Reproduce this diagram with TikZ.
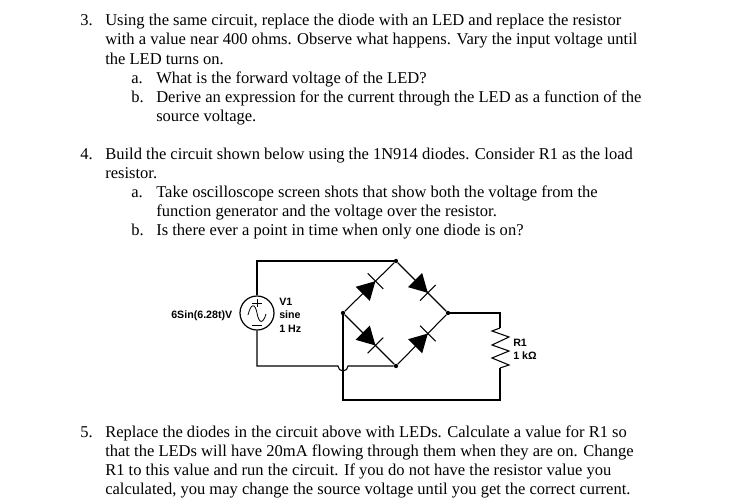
\documentclass[tikz,border=0pt]{standalone}
\usepackage{fontspec}
\setmainfont{Liberation Serif}
\setsansfont{Liberation Sans}
\tikzset{
  para/.style={anchor=base west,inner sep=0pt,font=\fontsize{12.4}{0}\selectfont},
  lab/.style={anchor=base west,inner sep=0pt,font=\sffamily\bfseries\fontsize{8}{0}\selectfont},
  wire/.style={line width=.8pt},
  sign/.style={line width=.6pt},
  junct/.style={circle,fill=black,inner sep=0pt,minimum size=3.2pt},
}
\newcommand{\diode}[4]{
\path (#1) -- (#2) coordinate[pos=.62] (#3);
\begin{scope}[shift={(#3)},rotate=#4]
\fill (0,0) -- (-18,10) -- (-18,-10) -- cycle;
\draw[wire] (0,-11) -- (0,11);
\end{scope}
}
\begin{document}
\begin{tikzpicture}[x=.75pt,y=-.75pt]
\useasboundingbox (0,0) rectangle (733,504);
\fill[white] (0,0) rectangle (733,504);
\node[para] (t1) at (80,25) {3.};
\node[para] (t2) at (105,25) {Using the same circuit, replace the diode with an LED and replace the resistor};
\node[para] (t3) at (105,44) {with a value near 400 ohms. Observe what happens. Vary the input voltage until};
\node[para] (t4) at (105,64) {the LED turns on.};
\node[para] (t5) at (131,83) {a.};
\node[para] (t6) at (156,83) {What is the forward voltage of the LED?};
\node[para] (t7) at (131,102) {b.};
\node[para] (t8) at (156,102) {Derive an expression for the current through the LED as a function of the};
\node[para] (t9) at (156,121) {source voltage.};
\node[para] (t10) at (80,159) {4.};
\node[para] (t11) at (105,159) {Build the circuit shown below using the 1N914 diodes. Consider R1 as the load};
\node[para] (t12) at (105,178) {resistor.};
\node[para] (t13) at (131,197) {a.};
\node[para] (t14) at (156,197) {Take oscilloscope screen shots that show both the voltage from the};
\node[para] (t15) at (156,216) {function generator and the voltage over the resistor.};
\node[para] (t16) at (131,235) {b.};
\node[para] (t17) at (156,235) {Is there ever a point in time when only one diode is on?};
\node[para] (t18) at (80,437) {5.};
\node[para] (t19) at (105,437) {Replace the diodes in the circuit above with LEDs. Calculate a value for R1 so};
\node[para] (t20) at (105,456) {that the LEDs will have 20mA flowing through them when they are on. Change};
\node[para] (t21) at (105,475) {R1 to this value and run the circuit. If you do not have the resistor value you};
\node[para] (t22) at (105,494) {calculated, you may change the source voltage until you get the correct current.};
\node[lab] (l1) at (171,318) {6Sin(6.28t)V};
\node[lab] (l2) at (279,305) {V1};
\node[lab] (l3) at (279,318) {sine};
\node[lab] (l4) at (279,332) {1 Hz};
\node[lab] (l5) at (513,346) {R1};
\node[lab] (l6) at (513,359) {1 kΩ};
\node[junct] (top) at (396,261) {};
\node[junct] (left) at (343,313) {};
\node[junct] (right) at (448,313) {};
\node[junct] (bot) at (396,366) {};
\node[circle,draw,line width=.9pt,inner sep=0pt,minimum size=25.5pt] (src) at (257,313) {};
\coordinate (rt) at (500,328);
\coordinate (rb) at (500,368);
\draw[wire] (src.north) -- (257,261) -- (top);
\draw[wire] (src.south) -- (257,366) -- (338,366) arc (180:0:5) -- (bot);
\draw[wire] (left) -- (top) -- (right) -- (bot) -- (left);
\draw[wire] (left) -- (343,400) -- (500,400) -- (rb);
\draw[wire] (right) -- (500,313) -- (rt);
\draw[wire] (rt) -- (492,331) -- (509,337) -- (492,345) -- (509,351) -- (492,358) -- (509,365) -- (rb);
\draw[sign] (252,303) -- (262,303) (257,299) -- (257,307);
\draw[sign] (252,325) -- (262,325);
\draw[sign] (248,315) .. controls (251,303) and (255,303) .. (257,313) .. controls (259,324) and (263,324) .. (266,314);
\diode{left}{top}{d1}{45}
\diode{top}{right}{d2}{-45}
\diode{left}{bot}{d3}{-45}
\diode{bot}{right}{d4}{45}
\end{tikzpicture}
\end{document}
